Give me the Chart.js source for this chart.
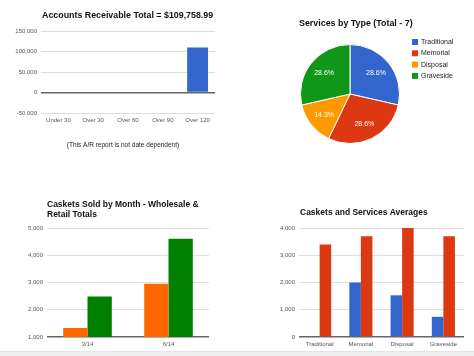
<!DOCTYPE html>
<html><head><meta charset="utf-8">
<script src="https://cdn.jsdelivr.net/npm/chart.js@4"></script>
<style>
html,body{margin:0;padding:0;background:#fff;width:474px;height:356px;overflow:hidden}
body{position:relative}
canvas{position:absolute;display:block}
#strip{position:absolute;left:0;top:351px;width:474px;height:5px;background:#efefef;border-top:1px solid #e4e4e4}
</style></head><body>
<div id="strip"></div>
<canvas id="c1" width="237" height="160" style="left:0;top:0"></canvas>
<canvas id="c2" width="237" height="160" style="left:237px;top:0"></canvas>
<canvas id="c3" width="237" height="166" style="left:0;top:190px"></canvas>
<canvas id="c4" width="237" height="166" style="left:237px;top:190px"></canvas>
<script>
// ---- data ----
const arCategories = ['Under 30','Over 30','Over 60','Over 90','Over 120'];
const arValues = [0, 0, 0, 0, 109758.99];
const arTicks = [-50000, 0, 50000, 100000, 150000];

const serviceTypes = ['Traditional','Memorial','Disposal','Graveside'];
const serviceCounts = [2, 2, 1, 2];

const casketMonths = ['3/14','6/14'];
const casketWholesale = [1330, 2950];
const casketRetail = [2490, 4610];
const casketTicks = [1000, 2000, 3000, 4000, 5000];

const avgCategories = ['Traditional','Memorial','Disposal','Graveside'];
const avgCaskets = [0, 2000, 1530, 740];
const avgServices = [3390, 3700, 4000, 3700];
const avgTicks = [0, 1000, 2000, 3000, 4000];

// ---- styles ----
const FONT = '"Liberation Sans", Arial, sans-serif';
Chart.defaults.font.family = FONT;
Chart.defaults.animation = false;
const BLUE = '#3366cc', RED = '#dc3912', ORANGE = '#ff9900', GREEN = '#109618';
const TICK_COLOR = '#555';

const titlePlugin = {
  id: 'ctitle',
  afterDraw(chart, args, opts) {
    const ctx = chart.ctx;
    ctx.save();
    ctx.fillStyle = '#111';
    ctx.font = 'bold ' + (opts.size || 8.5) + 'px ' + FONT;
    ctx.textBaseline = 'middle';
    ctx.textAlign = 'left';
    (opts.lines || []).forEach((t, i) => ctx.fillText(t, chart.chartArea.left + (opts.dx || 0), opts.y[i]));
    if (opts.note) {
      ctx.font = '6.5px ' + FONT;
      ctx.fillStyle = '#222';
      ctx.textAlign = 'center';
      ctx.fillText(opts.note, opts.noteX, opts.noteY);
    }
    ctx.restore();
  }
};

function yScale(ticks, width, base) {
  return {
    min: ticks[0], max: ticks[ticks.length - 1],
    afterBuildTicks: s => { s.ticks = ticks.map(v => ({value: v})); },
    afterFit: s => { s.width = width; },
    border: {display: false},
    grid: {
      drawTicks: false,
      color: c => (c.tick && c.tick.value === base) ? '#666' : '#dedede',
      lineWidth: c => (c.tick && c.tick.value === base) ? 1.5 : 1
    },
    ticks: {padding: 4, color: TICK_COLOR, font: {size: 6}, callback: v => Number(v).toLocaleString('en-US')}
  };
}
function xScale() {
  return {
    afterFit: s => { s.height = 12; },
    grid: {display: false, drawTicks: false},
    border: {display: false},
    ticks: {padding: 3.5, color: TICK_COLOR, font: {size: 6}, maxRotation: 0, autoSkip: false}
  };
}

// ---- chart 1 ----
new Chart(document.getElementById('c1'), {
  type: 'bar',
  data: {labels: arCategories, datasets: [{data: arValues, backgroundColor: BLUE, barPercentage: 1, categoryPercentage: 0.6}]},
  plugins: [titlePlugin],
  options: {
    responsive: false,
    layout: {padding: {left: 0, top: 31, right: 22, bottom: 35}},
    scales: {x: xScale(), y: yScale(arTicks, 41, 0)},
    plugins: {legend: {display: false}, tooltip: {enabled: false},
      ctitle: {lines: ['Accounts Receivable Total = $109,758.99'], y: [16], dx: 1, size: 8.85,
               note: '(This A/R report is not date dependent)', noteX: 123, noteY: 145}}
  }
});

// ---- chart 2 (pie) ----
const pieLabelPlugin = {
  id: 'pielabels',
  afterDatasetsDraw(chart) {
    const ctx = chart.ctx;
    const meta = chart.getDatasetMeta(0);
    const data = chart.data.datasets[0].data;
    const total = data.reduce((a, b) => a + b, 0);
    ctx.save();
    ctx.fillStyle = '#fff';
    ctx.font = '7px ' + FONT;
    ctx.textAlign = 'center';
    ctx.textBaseline = 'middle';
    meta.data.forEach((arc, i) => {
      const p = arc.getProps(['x','y','startAngle','endAngle','outerRadius']);
      const mid = (p.startAngle + p.endAngle) / 2;
      const r = p.outerRadius * 0.67;
      ctx.fillText((data[i] / total * 100).toFixed(1) + '%', p.x + Math.cos(mid) * r, p.y + Math.sin(mid) * r);
    });
    // legend
    const colors = chart.data.datasets[0].backgroundColor;
    chart.data.labels.forEach((lab, i) => {
      const y = 42 + i * 11.3;
      ctx.fillStyle = colors[i];
      ctx.fillRect(175, y - 3, 6, 6);
      ctx.fillStyle = '#222';
      ctx.textAlign = 'left';
      ctx.fillText(lab, 184, y);
    });
    ctx.restore();
  }
};
new Chart(document.getElementById('c2'), {
  type: 'pie',
  data: {labels: serviceTypes, datasets: [{data: serviceCounts, backgroundColor: [BLUE, RED, ORANGE, GREEN], borderColor: '#fff', borderWidth: 1}]},
  plugins: [titlePlugin, pieLabelPlugin],
  options: {
    responsive: false,
    layout: {padding: {left: 63, top: 44, right: 74, bottom: 16}},
    plugins: {legend: {display: false}, tooltip: {enabled: false},
      ctitle: {lines: ['Services by Type (Total - 7)'], y: [24], dx: -1, size: 8.9}}
  }
});

// ---- chart 3 ----
new Chart(document.getElementById('c3'), {
  type: 'bar',
  data: {labels: casketMonths, datasets: [
    {label: 'Wholesale', data: casketWholesale, backgroundColor: '#ff6600', barPercentage: 1, categoryPercentage: 0.6},
    {label: 'Retail', data: casketRetail, backgroundColor: '#008000', barPercentage: 1, categoryPercentage: 0.6}
  ]},
  plugins: [titlePlugin],
  options: {
    responsive: false,
    layout: {padding: {left: 0, top: 38, right: 28, bottom: 7}},
    scales: {x: xScale(), y: yScale(casketTicks, 47, 1000)},
    plugins: {legend: {display: false}, tooltip: {enabled: false},
      ctitle: {lines: ['Caskets Sold by Month - Wholesale &', 'Retail Totals'], y: [15, 25], dx: 0, size: 8.5}}
  }
});

// ---- chart 4 ----
new Chart(document.getElementById('c4'), {
  type: 'bar',
  data: {labels: avgCategories, datasets: [
    {label: 'Caskets', data: avgCaskets, backgroundColor: BLUE, barPercentage: 1, categoryPercentage: 0.56},
    {label: 'Services', data: avgServices, backgroundColor: RED, barPercentage: 1, categoryPercentage: 0.56}
  ]},
  plugins: [titlePlugin],
  options: {
    responsive: false,
    layout: {padding: {left: 0, top: 38, right: 10, bottom: 7}},
    scales: {x: xScale(), y: yScale(avgTicks, 62, 0)},
    plugins: {legend: {display: false}, tooltip: {enabled: false},
      ctitle: {lines: ['Caskets and Services Averages'], y: [23], dx: 1, size: 8.5}}
  }
});
</script>
</body></html>
